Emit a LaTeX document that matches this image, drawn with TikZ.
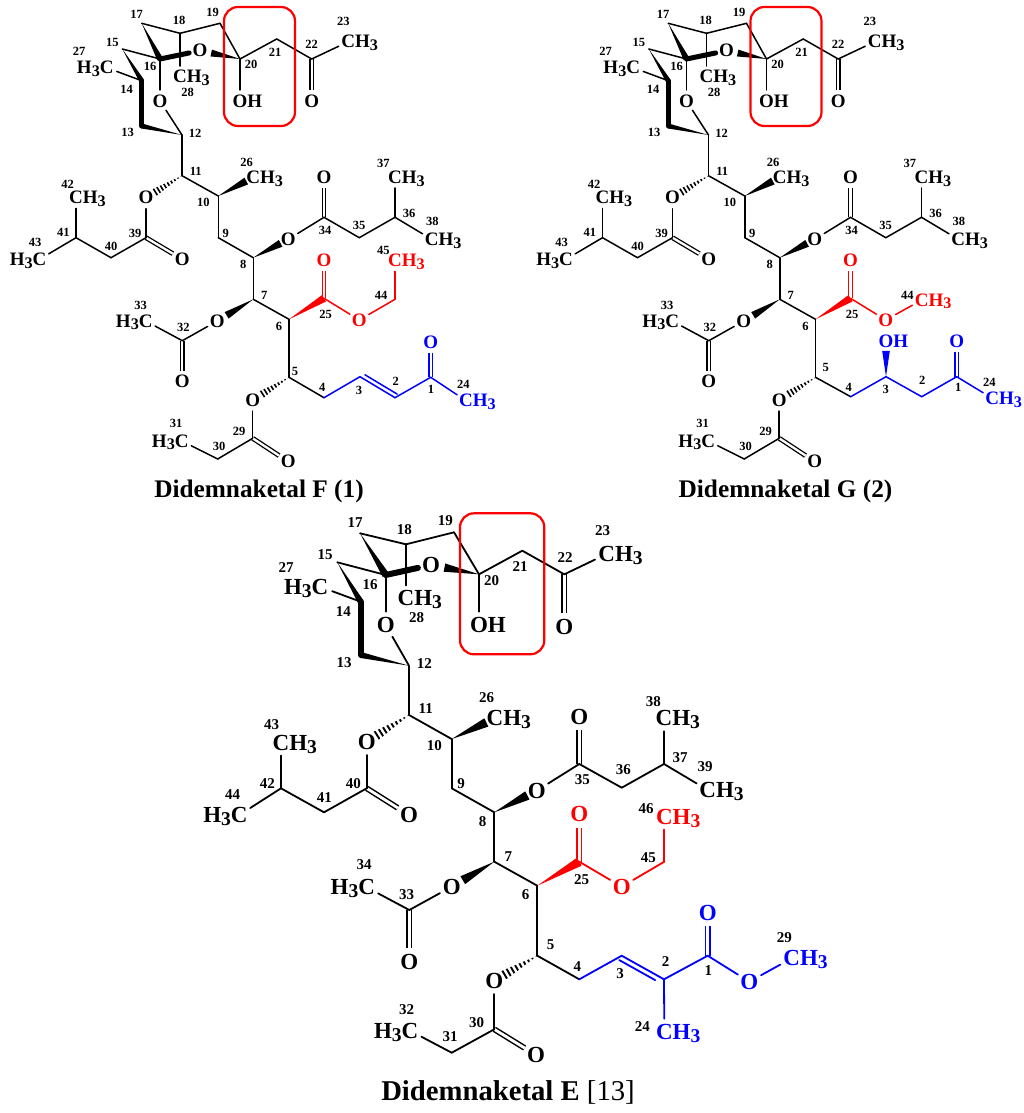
\documentclass[tikz,border=0pt]{standalone}
\usepackage{fontspec}
\usepackage{graphicx}
\setmainfont{Liberation Serif}
\usetikzlibrary{calc}
\definecolor{molred}{RGB}{255,0,0}
\definecolor{molblue}{RGB}{0,0,255}
\newcommand\subt{\raisebox{-.3ex}{\scalebox{.85}{3}}}
\newcommand\CHt{C\smash{\rlap{H\subt}}}
\newcommand\HtC{\smash{\llap{H\subt}}C}
\newcommand\OHt{O\smash{\rlap{H}}}
\newcommand\C[2]{\coordinate (#1) at (#2);}
\newcommand\At[4][black]{\node[atom,text=#1] (#2) at (#3) {#4};}
\newcommand\Num[2]{\node[num] (n#1) at (#2) {#1};}
\newcommand\B[3][black]{\draw[bond,#1] (#2) -- (#3);}
\newcommand\Dbl[3][black]{\draw[dbond,#1] (#2) -- (#3);}
\newcommand\Thk[2]{\draw[thickbond] (#1) -- (#2);}
% tip, target, fraction, half width
\newcommand\Wdg[5][black]{\fill[#1] (#2) -- ($(#2)!#4!(#3)!#5!90:(#2)$) -- ($(#2)!#4!(#3)!#5!-90:(#2)$) -- cycle;}
\newcommand\Hsh[4]{\begin{scope}\clip (#1) -- ($(#1)!#3!(#2)!#4!90:(#1)$) -- ($(#1)!#3!(#2)!#4!-90:(#1)$) -- cycle;
 \draw[hashpat,line width=2*#4] (#1) -- ($(#1)!#3!(#2)$);\end{scope}}
\tikzset{
 x=1pt,y=-1pt,
 atom/.style={circle,inner sep=.8pt,font=\fontsize{19}{19}\selectfont\bfseries},
 num/.style={inner sep=0pt,font=\fontsize{12.5}{12.5}\selectfont\bfseries},
 bond/.style={line width=1.5pt,line cap=round,line join=round},
 dbond/.style={line width=1.3pt,double distance=2.3pt,line cap=butt},
 thickbond/.style={line width=5pt,line cap=round},
 hashpat/.style={dash pattern=on 1.6pt off 2.2pt},
 redbox/.style={draw=molred,line width=2.2pt,rounded corners=14pt},
 caption/.style={inner sep=0pt,font=\fontsize{25.3}{25.3}\selectfont\bfseries},
}
% part shared by compounds F and G
\newcommand\coreFG{
 \C{c5}{289,377.3}\C{c6}{289,319.3}\C{c7}{253.3,299.3}\C{c8}{253.3,257.7}\C{c9}{218.3,237.7}
 \C{c10}{218.3,196}\C{c11}{182,175.7}\C{c12}{182,135}\C{c13}{141.7,126}\C{c14}{141.7,80.7}
 \C{c15}{122.3,49}\C{c16}{160,59}\C{c17}{141.7,23.3}\C{c18}{180,33.3}\C{c19}{220,23.3}
 \C{c20}{240,59}\C{c21}{276.7,39}\C{c22}{311.7,59}\C{c25}{324,298.3}\C{c29}{252.7,438.3}
 \C{c30}{217.7,459}\C{c32}{182.3,340.7}\C{c34}{324,217.3}\C{c35}{359.3,237.7}\C{c36}{395,217.3}
 \C{c39}{146,237.7}\C{c40}{111,257.7}\C{c41}{76,237.7}
 \At{m23}{348.3,41.7}{\CHt}\At{m26}{253.3,177.3}{\CHt}\At{m27}{106.7,67.7}{\HtC}\At{m28}{180,76.7}{\CHt}
 \At{m31}{181.7,441}{\HtC}\At{m33}{145.7,321}{\HtC}\At{m37}{395,177.3}{\CHt}\At{m38}{431.7,239.3}{\CHt}
 \At{m42}{76,197.7}{\CHt}\At{m43}{39.5,259.3}{\HtC}
 \At{oR}{160,101}{O}\At{oT}{200,50.7}{O}\At{oh}{240,101}{\OHt}\At{o22}{311.7,101}{O}
 \At{o11}{146,197.7}{O}\At{o39}{182.3,259.3}{O}\At{o8}{288.3,239.3}{O}\At{o34}{324,177.3}{O}
 \At{o7}{217.3,321}{O}\At{o32}{182.3,381.7}{O}\At{o5}{252.7,400}{O}\At{o29}{288.3,461.7}{O}
 \At[molred]{o25}{324,260}{O}\At[molred]{oE}{359.3,320}{O}
 \Dbl{c22}{o22}\Dbl{c39}{o39}\Dbl{c34}{o34}\Dbl{c32}{o32}\Dbl{c29}{o29}\Dbl[molred]{c25}{o25}
 \B{c18}{m28}\B{c18}{c17}\B{c18}{c19}\B{c19}{c20}\B{c20}{c21}\B{c21}{c22}\B{c22}{m23}\B{c20}{oh}
 \B{c16}{c15}\B{c16}{oR}\B{oR}{c12}\B{c12}{c11}\B{c11}{c10}\B{c10}{c9}\B{c9}{c8}\B{c8}{c7}\B{c7}{c6}\B{c6}{c5}
 \B{c14}{m27}\B{o11}{c39}\B{c39}{c40}\B{c40}{c41}\B{c41}{m42}\B{c41}{m43}
 \B{o8}{c34}\B{c34}{c35}\B{c35}{c36}\B{c36}{m37}\B{c36}{m38}
 \B{o7}{c32}\B{c32}{m33}\B{o5}{c29}\B{c29}{c30}\B{c30}{m31}
 \B[molred]{c25}{oE}
 \Wdg{c17}{c16}{1}{3pt}\Wdg{c15}{c14}{1}{2.5pt}\Wdg{c12}{c13}{1}{2.5pt}\Wdg{c20}{oT}{.72}{3.5pt}
 \Thk{c16}{oT}\Thk{c14}{c13}
 \Wdg{c10}{m26}{.8}{3.8pt}\Wdg{c8}{o8}{.78}{3.8pt}\Wdg{c7}{o7}{.74}{3.8pt}\Wdg[molred]{c6}{c25}{1}{3.8pt}
 \Hsh{c11}{o11}{.78}{4pt}\Hsh{c5}{o5}{.78}{4pt}
 \Num{6}{279,326}\Num{7}{264.3,295}\Num{8}{243.3,264.3}\Num{9}{225.7,233.3}\Num{10}{203.3,202.3}
 \Num{11}{195.7,171}\Num{12}{195,133.3}\Num{13}{127.7,132.3}\Num{14}{126.7,89}\Num{15}{112.3,42.3}
 \Num{16}{150,66.7}\Num{17}{136.7,14.3}\Num{18}{179,20.7}\Num{19}{212.7,12.7}\Num{20}{251,64.3}
 \Num{21}{275,52.3}\Num{22}{311.7,44.3}\Num{23}{343.3,21.7}\Num{25}{325.7,314}\Num{26}{246.7,162.7}
 \Num{27}{79,51.7}\Num{28}{187.7,92.3}\Num{29}{239,431}\Num{30}{219,446.7}\Num{31}{176,423.3}
 \Num{32}{183.3,327.3}\Num{33}{140.7,305}\Num{34}{325,230.7}\Num{35}{359,225}\Num{36}{409,213.3}
 \Num{37}{383.3,163.3}\Num{38}{432.3,221}\Num{39}{135,233.3}\Num{40}{111,246}\Num{41}{63.3,232.7}
 \Num{42}{67.7,184.3}\Num{43}{35,242.7}\Num{4}{322.3,387.7}
 \draw[redbox] (224,7) rectangle (295,126);
}
\begin{document}
\begin{tikzpicture}
\useasboundingbox (0,0) rectangle (1024,1113);
% ---------- Didemnaketal F
\begin{scope}[name prefix=F-]
 \coreFG
 \C{c4}{324,397.7}\C{c3}{360,376.7}\C{c2}{395,397.7}\C{c1}{430.7,377.3}\C{c44}{395,299.3}
 \At[molblue]{o1}{430.7,342.3}{O}\At[molblue]{m24}{466,400.7}{\CHt}\At[molred]{m45}{395,260.7}{\CHt}
 \Dbl[molblue]{c1}{o1}
 \B{c5}{c4}\B[molblue]{c4}{c3}\B[molblue]{c3}{c2}\B[molblue]{c2}{c1}\B[molblue]{c1}{m24}
 \draw[bond,molblue] ($(c3)!.08!(c2)!4.2pt!90:(c2)$) -- ($(c3)!1!(c2)!4.2pt!-90:(c3)$);
 \B[molred]{oE}{c44}\B[molred]{c44}{m45}
 \Num{5}{295,371.7}\Num{3}{359,390}\Num{2}{395.7,381.7}\Num{1}{431,389}\Num{24}{463.3,384.3}
 \Num{44}{381,295}\Num{45}{383.3,250}
 \node[caption] (cap) at (259,491) {Didemnaketal F (1)};
\end{scope}
% ---------- Didemnaketal G
\begin{scope}[shift={(526.5,0)},name prefix=G-]
 \coreFG
 \C{c4}{324.2,396.7}\C{c3}{359.5,376.7}\C{c2}{395.2,396.7}\C{c1}{430.2,376.7}
 \At[molblue]{oh3}{359.5,341}{\OHt}\At[molblue]{o1}{430.2,341}{O}\At[molblue]{m24}{465.8,398.3}{\CHt}\At[molred]{m44}{395.2,300}{\CHt}
 \Dbl[molblue]{c1}{o1}
 \B{c5}{c4}\B[molblue]{c4}{c3}\B[molblue]{c3}{c2}\B[molblue]{c2}{c1}\B[molblue]{c1}{m24}
 \Wdg[molblue]{c3}{oh3}{.72}{3.8pt}
 \B[molred]{oE}{m44}
 \Num{5}{299.2,367.7}\Num{3}{359.2,389}\Num{2}{395.8,380.7}\Num{1}{431.8,387.7}\Num{24}{462.8,382.7}
 \Num{44}{380.8,295}
 \node[caption] (cap) at (259,491) {Didemnaketal G (2)};
\end{scope}
% ---------- Didemnaketal E
\begin{scope}[name prefix=E-,
 atom/.style={circle,inner sep=1pt,font=\fontsize{23}{23}\selectfont\bfseries},
 num/.style={inner sep=0pt,font=\fontsize{15}{15}\selectfont\bfseries},
 bond/.style={line width=1.8pt,line cap=round,line join=round},
 dbond/.style={line width=1.5pt,double distance=2.8pt,line cap=butt},
 thickbond/.style={line width=6pt,line cap=round},
 hashpat/.style={dash pattern=on 1.9pt off 2.7pt}]
 \C{c1}{707.7,955.7}\C{c2}{664,979.3}\C{c3}{621.7,955.7}\C{c4}{579.3,979.3}\C{c5}{537.3,955.7}\C{c6}{537.3,885.7}
 \C{c7}{494.3,861.7}\C{c8}{494.3,812.3}\C{c9}{451.7,788.3}\C{c10}{451.7,739}\C{c11}{409,715}\C{c12}{409,665.7}
 \C{c13}{360.7,655}\C{c14}{360.7,601.7}\C{c15}{337.3,562.3}\C{c16}{385.7,575}\C{c17}{360,533.3}\C{c18}{406,544.3}
 \C{c19}{454,532.3}\C{c20}{479,574.3}\C{c21}{522.3,550.7}\C{c22}{564.3,574.3}\C{c25}{579.3,861.7}\C{c30}{494.3,1029.3}
 \C{c31}{451.7,1052.7}\C{c33}{409.3,910}\C{c35}{579.3,764}\C{c36}{621.7,787.7}\C{c37}{664,764}
 \C{c40}{366.7,788.3}\C{c41}{324,812.3}\C{c42}{281,788.3}\C{c45}{664.3,861.7}
 \At{m23}{606.7,554}{\CHt}\At{m26}{495,718.3}{\CHt}\At{m27}{320,586.7}{\HtC}\At{m28}{406,598.3}{\CHt}
 \At{m32}{410,1030.7}{\HtC}\At{m34}{366.7,887.3}{\HtC}\At{m38}{664,718.3}{\CHt}\At{m39}{707.7,790}{\CHt}
 \At{m43}{281,742.7}{\CHt}\At{m44}{239.3,815}{\HtC}
 \At{oR}{385.7,625}{O}\At{oT}{431,565}{O}\At{oh}{479,625}{\OHt}\At{o22}{564.3,626.7}{O}
 \At{o11}{366.7,741.7}{O}\At{o40}{409,815}{O}\At{o8}{536.7,790.7}{O}\At{o35}{579.3,716.7}{O}
 \At{o7}{451.7,886.7}{O}\At{o33}{409.3,961.7}{O}\At{o5}{494.3,980.7}{O}\At{o30}{536,1055}{O}
 \At[molred]{o25}{579.3,814.3}{O}\At[molred]{oE}{621.7,886.7}{O}\At[molred]{m46}{664.3,816.7}{\CHt}
 \At[molblue]{o1}{707.7,912.7}{O}\At[molblue]{oM}{749.3,981.7}{O}\At[molblue]{m29}{791.7,958.3}{\CHt}\At[molblue]{m24}{664.3,1031.7}{\CHt}
 \Dbl{c22}{o22}\Dbl{c40}{o40}\Dbl{c35}{o35}\Dbl{c33}{o33}\Dbl{c30}{o30}\Dbl[molred]{c25}{o25}\Dbl[molblue]{c1}{o1}
 \B{c18}{m28}\B{c18}{c17}\B{c18}{c19}\B{c19}{c20}\B{c20}{c21}\B{c21}{c22}\B{c22}{m23}\B{c20}{oh}
 \B{c16}{c15}\B{c16}{oR}\B{oR}{c12}\B{c12}{c11}\B{c11}{c10}\B{c10}{c9}\B{c9}{c8}\B{c8}{c7}\B{c7}{c6}\B{c6}{c5}\B{c5}{c4}
 \B{c14}{m27}\B{o11}{c40}\B{c40}{c41}\B{c41}{c42}\B{c42}{m43}\B{c42}{m44}
 \B{o8}{c35}\B{c35}{c36}\B{c36}{c37}\B{c37}{m38}\B{c37}{m39}
 \B{o7}{c33}\B{c33}{m34}\B{o5}{c30}\B{c30}{c31}\B{c31}{m32}
 \B[molred]{c25}{oE}\B[molred]{oE}{c45}\B[molred]{c45}{m46}
 \B[molblue]{c4}{c3}\B[molblue]{c3}{c2}\B[molblue]{c2}{c1}\B[molblue]{c1}{oM}\B[molblue]{oM}{m29}\B[molblue]{c2}{m24}
 \draw[bond,molblue] ($(c3)!0!(c2)!5pt!-90:(c2)$) -- ($(c3)!.85!(c2)!5pt!90:(c3)$);
 \Wdg{c17}{c16}{1}{3.6pt}\Wdg{c15}{c14}{1}{3pt}\Wdg{c12}{c13}{1}{3pt}\Wdg{c20}{oT}{.72}{4.2pt}
 \Thk{c16}{oT}\Thk{c14}{c13}
 \Wdg{c10}{m26}{.8}{4.6pt}\Wdg{c8}{o8}{.78}{4.6pt}\Wdg{c7}{o7}{.74}{4.6pt}\Wdg[molred]{c6}{c25}{1}{4.6pt}
 \Hsh{c11}{o11}{.78}{4.8pt}\Hsh{c5}{o5}{.78}{4.8pt}
 \Num{1}{708.3,970.7}\Num{2}{665.7,961.7}\Num{3}{620,973.3}\Num{4}{577.3,966.7}\Num{5}{550.7,945}\Num{6}{525.7,895}
 \Num{7}{508.3,856.7}\Num{8}{482.7,821.7}\Num{9}{461,784}\Num{10}{434.3,746}\Num{11}{425.7,708.3}\Num{12}{424.3,663.3}
 \Num{13}{344,662.3}\Num{14}{343.3,611.7}\Num{15}{325,554.3}\Num{16}{370,585}\Num{17}{355,522.3}\Num{18}{404.3,530}
 \Num{19}{445.3,520.7}\Num{20}{491.7,581}\Num{21}{520,566.7}\Num{22}{565,557.7}\Num{23}{602.7,531}\Num{24}{642.3,1026.7}
 \Num{25}{581.7,880}\Num{26}{486.7,698}\Num{27}{286,567.3}\Num{28}{416.7,617.5}\Num{29}{784.3,937.3}\Num{30}{476.7,1022.7}
 \Num{31}{450,1036.7}\Num{32}{406.7,1009.3}\Num{33}{406.7,895}\Num{34}{364,865}\Num{35}{582.3,780}\Num{36}{623.3,769.3}
 \Num{37}{680,757.7}\Num{38}{653.3,701.7}\Num{39}{705,766.7}\Num{40}{353.3,783.3}\Num{41}{324.3,797.3}\Num{42}{267.3,783.3}
 \Num{43}{271.7,724.3}\Num{44}{232.7,795}\Num{45}{648.3,857.7}\Num{46}{646,808.3}
 \draw[redbox] (460,513.3) rectangle (544.3,654.3);
 \node[caption,font=\fontsize{28.7}{28.7}\selectfont] (cap) at (508,1092) {\textbf{Didemnaketal E} [13]};
\end{scope}
\end{tikzpicture}
\end{document}
